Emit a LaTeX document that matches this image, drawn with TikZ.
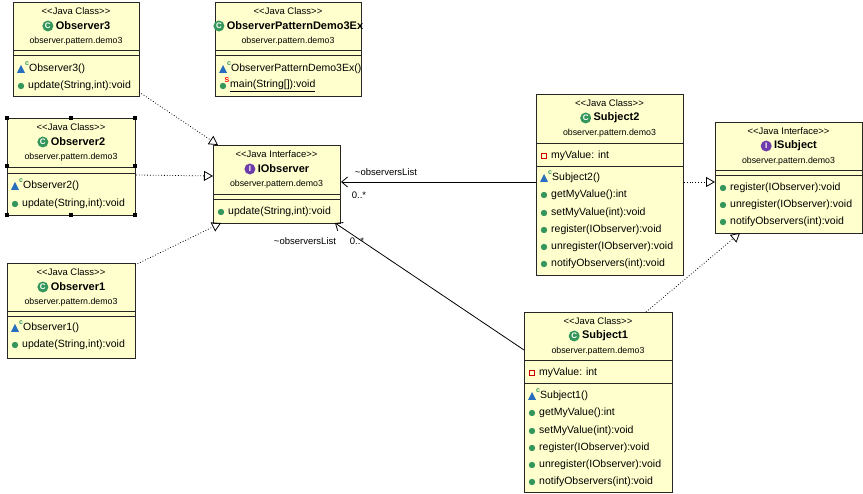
\documentclass[tikz,border=0pt]{standalone}
\usepackage{fontspec}
\setmainfont{Liberation Sans}
\usetikzlibrary{arrows.meta}
\definecolor{boxy}{RGB}{255,255,206}
\definecolor{icg}{RGB}{52,150,90}
\definecolor{icp}{RGB}{110,60,170}
\definecolor{icb}{RGB}{40,110,190}
\tikzset{
 box/.style={draw=black!85,line width=1pt,fill=boxy,anchor=north west,inner sep=0pt},
 st/.style={font=\fontsize{9.5}{10}\selectfont,inner sep=0pt},
 pk/.style={font=\fontsize{8.8}{9}\selectfont,inner sep=0pt},
 ttl/.style={font=\fontsize{11}{12}\selectfont\bfseries,inner sep=0pt},
 mem/.style={font=\fontsize{10.5}{11}\selectfont,inner sep=0pt,anchor=west},
 real/.style={dotted,line width=0.8pt,-{Triangle[open,length=9pt,width=10pt]}},
 assoc/.style={line width=0.8pt,-{Straight Barb[length=6pt,width=10pt]}},
 lab/.style={font=\fontsize{9.5}{10}\selectfont,inner sep=0pt},
}
\newcommand\cls[8]{% name x y w h title icon(C/I) stereo
 \node[box,minimum width=#4pt,minimum height=#5pt] (#1) at (#2,#3) {};
 \node[st] at (#2+#4/2,#3+9) {\textless\kern0pt\textless Java #8\textgreater\kern0pt\textgreater};
 \node[ttl] (#1t) at (#2+#4/2+7,#3+24) {#6};
 \ifx I#7 \node[circle,fill=icp,inner sep=0pt,minimum size=11pt,text=white,font=\fontsize{8}{8}\selectfont\bfseries,anchor=east] at ([xshift=-2pt]#1t.west) {I};
 \else \node[circle,fill=icg,inner sep=0pt,minimum size=11pt,text=white,font=\fontsize{8}{8}\selectfont\bfseries,anchor=east] at ([xshift=-2pt]#1t.west) {C};\fi
 \node[pk] at (#2+#4/2,#3+39) {observer.pattern.demo3};
}
\newcommand\hl[3]{\draw[line width=1pt,black!85] (#1,#3) -- (#1+#2,#3);}
\newcommand\mth[3]{\fill[icg] (#1+8,#2) circle (3.2pt); \node[mem] at (#1+15,#2) {#3};}
\newcommand\ctor[3]{\fill[icb] (#1+4,#2+4) -- (#1+12,#2+4) -- (#1+8,#2-4) -- cycle;
 \node[font=\fontsize{7}{7}\selectfont\bfseries,text=icg,inner sep=0pt] at (#1+14,#2-5) {c};
 \node[mem] at (#1+16,#2) {#3};}
\newcommand\attr[3]{\draw[red!80!black,line width=0.8pt] (#1+5.5,#2-2.5) rectangle (#1+10.5,#2+2.5); \node[mem] at (#1+15,#2) {#3};}
\begin{document}
\begin{tikzpicture}[x=1pt,y=-1pt]
\useasboundingbox (0,0) rectangle (863,494);
\fill[white] (0,0) rectangle (863,494);
% Observer3
\cls{o3}{13}{2}{126}{94}{Observer3}{C}{Class}
\hl{13}{126}{51}\hl{13}{126}{56}
\ctor{13}{69}{Observer3()}\mth{13}{86}{update(String,int):void}
% Demo
\cls{demo}{215}{2}{146}{94}{ObserverPatternDemo3Ex}{C}{Class}
\hl{215}{146}{51}\hl{215}{146}{56}
\ctor{215}{69}{ObserverPatternDemo3Ex()}
\fill[icg] (223,86) circle (3.2pt);
\node[font=\fontsize{7}{7}\selectfont\bfseries,text=red,inner sep=0pt] at (227,80) {S};
\node[mem] at (230,86) {\underline{main(String[]):void}};
% Observer2
\cls{o2}{7}{118}{128}{97}{Observer2}{C}{Class}
\hl{7}{128}{168}\hl{7}{128}{174}
\ctor{7}{186}{Observer2()}\mth{7}{204}{update(String,int):void}
\foreach \p in {(7,118),(71,118),(135,118),(7,166),(135,166),(7,215),(71,215),(135,215)} \fill \p +(-2,-2) rectangle +(2,2);
% IObserver
\cls{io}{213}{145}{127}{78}{IObserver}{I}{Interface}
\hl{213}{127}{195}\hl{213}{127}{200}
\mth{213}{212}{update(String,int):void}
% Observer1
\cls{o1}{7}{263}{128}{95}{Observer1}{C}{Class}
\hl{7}{128}{312}\hl{7}{128}{317}
\ctor{7}{328}{Observer1()}\mth{7}{345}{update(String,int):void}
% Subject2
\cls{s2}{536}{94}{147}{181}{Subject2}{C}{Class}
\hl{536}{147}{144}\hl{536}{147}{167}
\attr{536}{156}{myValue: int}
\ctor{536}{178}{Subject2()}
\mth{536}{195}{getMyValue():int}\mth{536}{213}{setMyValue(int):void}
\mth{536}{230}{register(IObserver):void}\mth{536}{247}{unregister(IObserver):void}
\mth{536}{264}{notifyObservers(int):void}
% ISubject
\cls{is}{715}{122}{147}{111}{ISubject}{I}{Interface}
\hl{715}{147}{171}\hl{715}{147}{176}
\mth{715}{188}{register(IObserver):void}\mth{715}{205}{unregister(IObserver):void}
\mth{715}{222}{notifyObservers(int):void}
% Subject1
\cls{s1}{524}{312}{148}{180}{Subject1}{C}{Class}
\hl{524}{148}{361}\hl{524}{148}{384}
\attr{524}{373}{myValue: int}
\ctor{524}{396}{Subject1()}
\mth{524}{413}{getMyValue():int}\mth{524}{431}{setMyValue(int):void}
\mth{524}{448}{register(IObserver):void}\mth{524}{465}{unregister(IObserver):void}
\mth{524}{482}{notifyObservers(int):void}
% connectors
\coordinate (a1) at (139,92); \coordinate (b1) at (218,145);
\draw[real] (a1) -- (b1);
\draw[real] (o2.east |- 0,175) -- (io.west |- 0,176);
\coordinate (a3) at (135,265); \coordinate (b3) at (221,223);
\draw[real] (a3) -- (b3);
\draw[real] (s2.east |- 0,182) -- (is.west |- 0,182);
\coordinate (a4) at (646,312); \coordinate (b4) at (740,233);
\draw[real] (a4) -- (b4);
\draw[assoc] (s2.west |- 0,182) -- (io.east |- 0,182);
\coordinate (a5) at (524,350); \coordinate (b5) at (335,223);
\draw[assoc] (a5) -- (b5);
\node[lab] at (386,172) {\textasciitilde observersList};
\node[lab] at (359,195) {0..*};
\node[lab] at (305,241) {\textasciitilde observersList};
\node[lab] at (357,241) {0..*};
\end{tikzpicture}
\end{document}
